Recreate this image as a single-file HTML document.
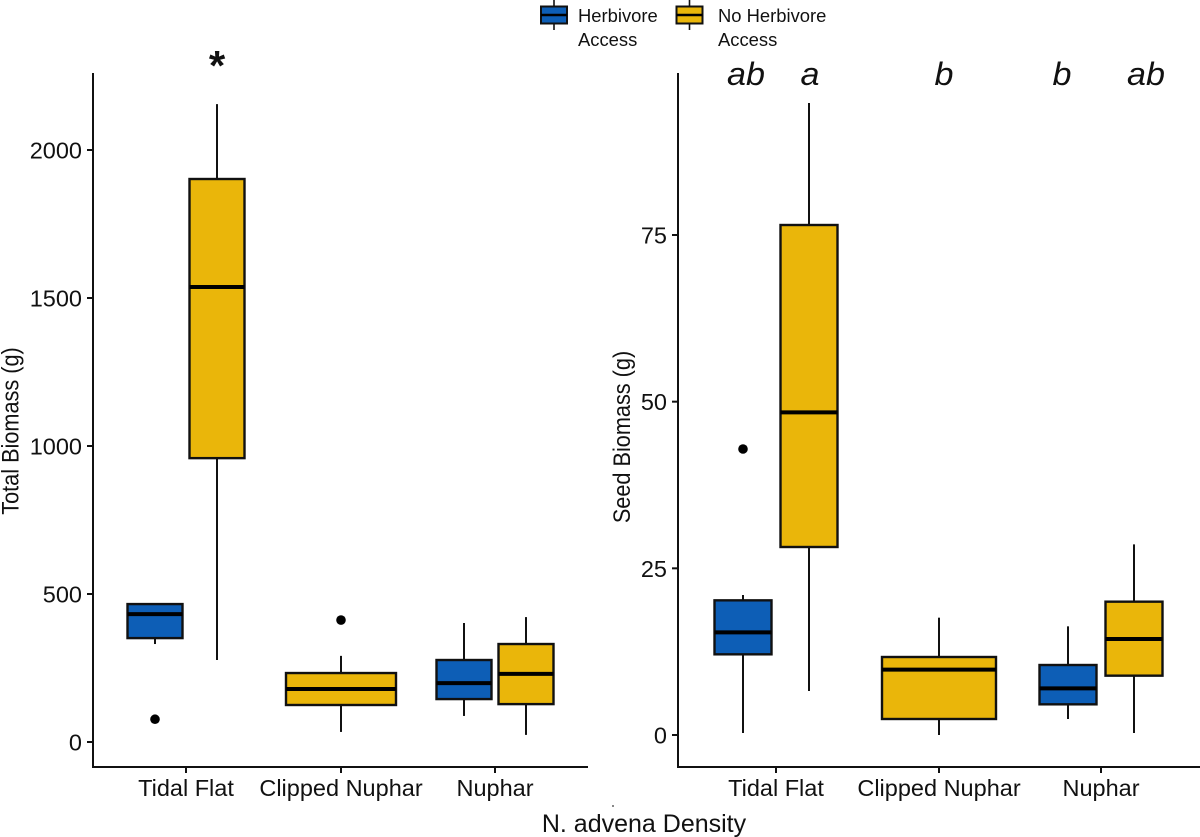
<!DOCTYPE html>
<html lang="en">
<head>
<meta charset="utf-8">
<title>Total and Seed Biomass by N. advena Density</title>
<style>
html,body{margin:0;padding:0;background:#fff;width:1200px;height:837px;overflow:hidden}
svg{display:block;font-family:"Liberation Sans",Arial,sans-serif}
</style>
</head>
<body>
<svg id="chart" xmlns="http://www.w3.org/2000/svg" width="1200" height="837" viewBox="0 0 1200 837"></svg>
<script>
const categories = ['Tidal Flat', 'Clipped Nuphar', 'Nuphar'];
const groups = ['Herbivore Access', 'No Herbivore Access'];

const totalTicks = [0, 500, 1000, 1500, 2000];
const seedTicks = [0, 25, 50, 75];

// Each row: category index, group index, whisker low, q1, median, q3, whisker high
const totalCategory = [0, 0, 1, 2, 2];
const totalGroup = [0, 1, 1, 0, 1];
const totalLow = [331, 277, 34, 88, 24];
const totalQ1 = [351, 959, 125, 145, 128];
const totalMedian = [432, 1537, 179, 199, 230];
const totalQ3 = [466, 1902, 233, 277, 331];
const totalHigh = [466, 2155, 291, 402, 422];
const totalSpan = [false, false, true, false, false];
const totalOutliers = [77, null, 412, null, null];

const seedCategory = [0, 0, 1, 2, 2];
const seedGroup = [0, 1, 1, 0, 1];
const seedLow = [0.3, 6.6, 0, 2.4, 0.3];
const seedQ1 = [12.1, 28.2, 2.4, 4.6, 8.9];
const seedMedian = [15.4, 48.4, 9.8, 7.0, 14.4];
const seedQ3 = [20.2, 76.5, 11.7, 10.5, 20.0];
const seedHigh = [21.0, 94.8, 17.6, 16.3, 28.6];
const seedSpan = [false, false, true, false, false];
const seedOutliers = [42.9, null, null, null, null];

const seedLetters = ['ab', 'a', 'b', 'b', 'ab'];

const svg = document.getElementById('chart');
const NS = 'http://www.w3.org/2000/svg';
const colors = ['#0D5EB6', '#EAB60A'];

function make(tag, attrs, parent) {
  const el = document.createElementNS(NS, tag);
  for (const k in attrs) el.setAttribute(k, attrs[k]);
  (parent || svg).appendChild(el);
  return el;
}
function label(str, x, y, size, anchor, parent, italic, hs) {
  const t = make('text', {
    transform: 'translate(' + x + ' ' + y + ') scale(' + (hs || 1) + ' 1)',
    'font-size': size,
    'text-anchor': anchor,
    fill: '#111'
  }, parent);
  if (italic) t.setAttribute('font-style', 'italic');
  t.textContent = str;
  return t;
}
function linear(v0, p0, v1, p1) {
  return v => p0 + (v - v0) * (p1 - p0) / (v1 - v0);
}

function drawPanel(cfg) {
  const g = make('g', {});
  
  
  const y = cfg.y;

  // boxes
  cfg.q1.forEach((q, i) => {
    const b = make('g', {}, g);
    
    
    const c = cfg.x[cfg.cat[i]];
    const cx = cfg.span[i] ? c : c + (cfg.grp[i] ? 1 : -1) * cfg.dodge;
    const w = cfg.span[i] ? cfg.width * 2 : cfg.width;
    make('line', {x1: cx, x2: cx, y1: y(cfg.low[i]), y2: y(cfg.high[i]), stroke: '#111', 'stroke-width': 2}, b);
    make('rect', {x: cx - w / 2, y: y(cfg.q3[i]), width: w, height: y(q) - y(cfg.q3[i]), fill: colors[cfg.grp[i]], stroke: '#111', 'stroke-width': 2.4}, b);
    make('line', {x1: cx - w / 2, x2: cx + w / 2, y1: y(cfg.median[i]), y2: y(cfg.median[i]), stroke: '#000', 'stroke-width': 4}, b);
    if (cfg.outliers[i] !== null) {
      const o = make('circle', {cx: cx, cy: y(cfg.outliers[i]), r: 4.8, fill: '#000'}, b);
      
      
    }
  });

  // axes
  const ya = make('line', {x1: cfg.left, x2: cfg.left, y1: 73, y2: 767, stroke: '#111', 'stroke-width': 2}, g);
  
  
  const xa = make('line', {x1: cfg.left - 1, x2: cfg.right, y1: 767, y2: 767, stroke: '#111', 'stroke-width': 2}, g);
  
  

  cfg.ticks.forEach(t => {
    make('line', {x1: cfg.left - 6, x2: cfg.left, y1: y(t), y2: y(t), stroke: '#111', 'stroke-width': 2}, g);
    const l = label(String(t), cfg.left - 11, y(t) + 8.5, 23.5, 'end', g);
    
    
  });
  categories.forEach((c, i) => {
    make('line', {x1: cfg.x[i], x2: cfg.x[i], y1: 767, y2: 773, stroke: '#111', 'stroke-width': 2}, g);
    const l = label(c, cfg.x[i], 796, 23.5, 'middle', g);
    
    
  });

  const title = make('text', {
    transform: 'translate(' + cfg.titleX + ' ' + cfg.titleY + ') rotate(-90) scale(1 1.1)',
    'font-size': 21.7, 'text-anchor': 'middle', fill: '#111'
  }, g);
  
  
  title.textContent = cfg.title;
}

drawPanel({
  name: 'total-biomass-panel', title: 'Total Biomass (g)', titleX: 18.5, titleY: 431,
  left: 93, right: 588, x: [186, 341, 495], dodge: 31, width: 55,
  y: linear(0, 742, 2000, 150), ticks: totalTicks,
  cat: totalCategory, grp: totalGroup, low: totalLow, q1: totalQ1, median: totalMedian,
  q3: totalQ3, high: totalHigh, span: totalSpan, outliers: totalOutliers
});
drawPanel({
  name: 'seed-biomass-panel', title: 'Seed Biomass (g)', titleX: 630, titleY: 437,
  left: 678, right: 1200, x: [776, 939, 1101], dodge: 33, width: 57,
  y: linear(0, 735, 75, 235), ticks: seedTicks,
  cat: seedCategory, grp: seedGroup, low: seedLow, q1: seedQ1, median: seedMedian,
  q3: seedQ3, high: seedHigh, span: seedSpan, outliers: seedOutliers
});

// annotations
const star = make('text', {x: 217, y: 80, 'font-size': 42, 'font-weight': 'bold', 'text-anchor': 'middle', fill: '#111'});
star.textContent = '*';



const seedX = [776, 776, 939, 1101, 1101];
const seedOff = [-30, 34, 5, -39, 45];
seedLetters.forEach((s, i) => {
  const t = label(s, seedX[i] + seedOff[i], 85, 32.5, 'middle', svg, true, 1.05);
  
  
});

const xTitle = label('N. advena Density', 644, 832, 25, 'middle');



const speck = make('circle', {cx: 613, cy: 806, r: 0.9, fill: '#333'});



// legend
const legend = make('g', {});


const legendKeyX = [554, 689.5];
const legendTextX = [578, 718];
const legendLine1 = ['Herbivore', 'No Herbivore'];
groups.forEach((name, i) => {
  const e = make('g', {}, legend);
  
  
  const cx = legendKeyX[i];
  make('line', {x1: cx, x2: cx, y1: 0, y2: 30, stroke: '#111', 'stroke-width': 1.6}, e);
  make('rect', {x: cx - 13, y: 6.5, width: 26, height: 17, fill: colors[i], stroke: '#111', 'stroke-width': 2}, e);
  make('line', {x1: cx - 13, x2: cx + 13, y1: 15, y2: 15, stroke: '#000', 'stroke-width': 2.5}, e);
  label(legendLine1[i], legendTextX[i], 22, 18.4, 'start', e);
  label('Access', legendTextX[i], 46, 18.4, 'start', e);
});
</script>
</body>
</html>
